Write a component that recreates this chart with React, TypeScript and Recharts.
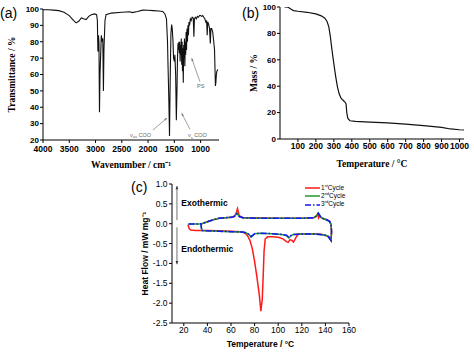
import { LineChart, Line, XAxis, YAxis, ReferenceLine, ReferenceDot, Legend } from "recharts"

// (a) FT-IR spectrum
const IR_WAVENUMBER = [
  4000, 3900, 3800, 3700, 3600, 3500, 3420, 3370, 3320, 3270,
  3230, 3180, 3130, 3080, 3020, 2980, 2965, 2955, 2945, 2935,
  2925, 2915, 2890, 2875, 2862, 2850, 2840, 2820, 2800, 2700,
  2500, 2350, 2300, 2200, 2100, 2000, 1900, 1800, 1720, 1680,
  1650, 1630, 1620, 1605, 1592, 1580, 1565, 1552, 1540, 1525,
  1515, 1500, 1490, 1475, 1462, 1450, 1440, 1430, 1420, 1412,
  1405, 1398, 1390, 1382, 1375, 1368, 1360, 1352, 1345, 1338,
  1330, 1322, 1315, 1308, 1300, 1292, 1284, 1276, 1268, 1260,
  1250, 1242, 1232, 1222, 1210, 1195, 1180, 1160, 1140, 1128,
  1118, 1100, 1080, 1060, 1040, 1020, 1000, 980, 960, 940,
  920, 900, 885, 875, 865, 850, 830, 815, 805, 790,
  770, 750, 735, 725, 718, 710, 700, 690, 672,
]
const IR_TRANSMITTANCE = [
  99.5, 99.5, 99.3, 99, 98, 96, 93, 91.5, 92.5, 94.5,
  94, 93.5, 95.5, 96.5, 97, 96.5, 93, 74, 84, 80,
  37, 60, 84, 80, 82, 50, 75, 93, 96.5, 97.5,
  98, 98.3, 97.8, 98.5, 99.3, 99.2, 99, 98.8, 98.5, 97,
  94, 80, 65, 45, 22.5, 55, 85, 90.5, 88, 80,
  70, 68, 72, 60, 32, 50, 70, 79, 75, 80,
  73, 80, 68, 78, 72, 82, 66, 80, 62, 76,
  55, 78, 70, 82, 65, 80, 72, 86, 75, 88,
  80, 90, 84, 92, 90, 94, 93, 95, 94.5, 83,
  94, 95, 94, 95.5, 95, 96, 96, 95.5, 96, 95,
  94, 92, 93, 84, 92, 91, 88, 79, 88, 88,
  86, 80, 75, 62, 53, 55, 60, 62, 63,
]
const IR_X_TICKS = [4000, 3500, 3000, 2500, 2000, 1500, 1000]
const IR_X_MINOR = [3750, 3250, 2750, 2250, 1750, 1250, 750]
const IR_Y_TICKS = [20, 30, 40, 50, 60, 70, 80, 90, 100]

// (b) TGA
const TGA_TEMP = [
  25, 45, 60, 75, 100, 150, 200, 230, 250, 262,
  272, 280, 290, 300, 310, 320, 330, 340, 350, 362,
  368, 372, 378, 390, 420, 500, 600, 700, 800, 900,
  950, 1000, 1025,
]
const TGA_MASS = [
  100, 99.8, 98.5, 97.3, 96.8, 96, 94.8, 93.3, 91.5, 89,
  85, 78, 67, 57, 47.5, 39.5, 34, 31, 29.5, 28,
  26.5, 20, 15.5, 13.8, 13.3, 12.8, 12.2, 11.3, 10.2, 8.8,
  7.6, 7.0, 6.8,
]
const TGA_X_TICKS = [100, 200, 300, 400, 500, 600, 700, 800, 900, 1000]
const TGA_Y_TICKS = [0, 20, 40, 60, 80, 100]
const TGA_Y_MINOR = [10, 30, 50, 70, 90]

// (c) DSC, three heating/cooling cycles
const CYCLE1_TEMP = [
  23.5, 24.5, 26, 30, 40, 50, 60, 68, 72, 74,
  76, 78, 80, 82, 84, 85.3, 86.5, 87.3, 88, 89,
  91, 95, 100, 104, 107, 108.5, 110, 111.5, 113, 115,
  117, 125, 135, 140, 143, 144.8, 145.2, 144.8, 143.5, 141,
  138, 135.5, 134.8, 134.2, 133.5, 132, 130, 120, 100, 80,
  70, 67, 65.5, 64.5, 63, 60, 55, 50, 45, 40,
  37, 35.5,
]
const CYCLE1_FLOW = [
  -0.02, -0.12, -0.16, -0.17, -0.17, -0.18, -0.19, -0.2, -0.24, -0.3,
  -0.42, -0.62, -0.95, -1.35, -1.8, -2.2, -1.9, -1.3, -0.7, -0.38,
  -0.33, -0.33, -0.34, -0.38, -0.45, -0.47, -0.4, -0.42, -0.46, -0.35,
  -0.26, -0.25, -0.26, -0.29, -0.33, -0.42, -0.2, -0.02, 0.06, 0.1,
  0.13, 0.17, 0.19, 0.15, 0.25, 0.18, 0.15, 0.14, 0.14, 0.15,
  0.15, 0.2, 0.38, 0.28, 0.18, 0.16, 0.15, 0.14, 0.1, 0.05,
  0.02, 0.0,
]
const CYCLE2_TEMP = [
  24, 30, 34.5, 35.2, 40, 50, 60, 70, 73, 75.5,
  77, 78.5, 80, 85, 95, 103, 107, 109, 110.5, 113,
  120, 130, 138, 142, 144.8, 145.2, 144.8, 143.5, 141, 138,
  136, 134, 132.5, 130, 120, 100, 80, 70, 67, 65,
  63.5, 61, 55, 50, 45, 40, 37, 35.2,
]
const CYCLE2_FLOW = [
  -0.01, -0.01, 0.0, -0.17, -0.18, -0.19, -0.2, -0.21, -0.23, -0.28,
  -0.34, -0.3, -0.25, -0.24, -0.25, -0.27, -0.3, -0.36, -0.31, -0.27,
  -0.26, -0.26, -0.28, -0.31, -0.43, -0.2, -0.02, 0.06, 0.1, 0.13,
  0.17, 0.27, 0.2, 0.15, 0.14, 0.14, 0.14, 0.15, 0.18, 0.27,
  0.2, 0.16, 0.15, 0.14, 0.1, 0.05, 0.02, 0.0,
]
const CYCLE3_TEMP = [
  24, 30, 34.5, 35.2, 40, 50, 60, 70, 73, 75.5,
  77, 78.5, 80, 85, 95, 103, 107, 109, 110.5, 113,
  120, 130, 138, 142, 144.8, 145.2, 144.8, 143.5, 141, 138,
  136, 134, 132.5, 130, 120, 100, 80, 70, 67, 65,
  63.5, 61, 55, 50, 45, 40, 37, 35.2,
]
const CYCLE3_FLOW = [
  -0.01, -0.01, 0.0, -0.17, -0.18, -0.19, -0.2, -0.21, -0.23, -0.27,
  -0.32, -0.29, -0.25, -0.24, -0.25, -0.27, -0.29, -0.34, -0.3, -0.27,
  -0.26, -0.26, -0.28, -0.31, -0.42, -0.2, -0.02, 0.06, 0.1, 0.13,
  0.17, 0.26, 0.2, 0.15, 0.14, 0.14, 0.14, 0.15, 0.18, 0.25,
  0.2, 0.16, 0.15, 0.14, 0.1, 0.05, 0.02, 0.0,
]
const CYCLE_NUMS = ["1", "2", "3"]
const CYCLE_SUFFIX = ["st", "nd", "rd"]
const CYCLE_COLORS = ["#ff1a1a", "#1f9a2a", "#1414ff"]
const CYCLE_DASHES = [undefined, undefined, "6 2 1.5 2"]
const DSC_X_TICKS = [20, 40, 60, 80, 100, 120, 140, 160]
const DSC_X_MINOR = [10, 30, 50, 70, 90, 110, 130, 150]
const DSC_Y_TICKS = [-2.5, -2.0, -1.5, -1.0, -0.5, 0.0, 0.5, 1.0]
const DSC_Y_MINOR = [-2.25, -1.75, -1.25, -0.75, -0.25, 0.25, 0.75]

const irData = IR_WAVENUMBER.map((wn, i) => ({ wn, t: IR_TRANSMITTANCE[i] }))
const tgaData = TGA_TEMP.map((temp, i) => ({ temp, mass: TGA_MASS[i] }))
const zip = (xs: number[], ys: number[]) => xs.map((temp, i) => ({ temp, flow: ys[i] }))
const dscSeries = [
  zip(CYCLE1_TEMP, CYCLE1_FLOW),
  zip(CYCLE2_TEMP, CYCLE2_FLOW),
  zip(CYCLE3_TEMP, CYCLE3_FLOW),
]

const SANS = "Liberation Sans, Arial, sans-serif"
const SERIF = "Liberation Serif, Times New Roman, serif"
const boldTick = { fill: "#000", fontSize: 8.5, fontWeight: 700, fontFamily: SANS }
const boldTickY = { ...boldTick, fontSize: 8 }
const plainTick = { fill: "#000", fontSize: 8.5, fontFamily: SANS }
const serifTitle = { fill: "#000", fontSize: 9.5, fontWeight: 700, fontFamily: SERIF }
const sansTitle = { fill: "#000", fontSize: 8.5, fontWeight: 700, fontFamily: SANS }

function Arrow(props: any) {
  const { x1, y1, x2, y2, stroke, head = 3 } = props
  const a = Math.atan2(y2 - y1, x2 - x1)
  const p1 = `${x2 - head * Math.cos(a - 0.4)},${y2 - head * Math.sin(a - 0.4)}`
  const p2 = `${x2 - head * Math.cos(a + 0.4)},${y2 - head * Math.sin(a + 0.4)}`
  return (
    <g>
      <line x1={x1} y1={y1} x2={x2} y2={y2} stroke={stroke} strokeWidth={0.7} />
      <path d={`M${p1}L${x2},${y2}L${p2}Z`} fill={stroke} />
    </g>
  )
}

function SubText({ cx, cy, main, sub, rest }: any) {
  return (
    <text x={cx} y={cy} fontSize={5.5} fill="#666" fontFamily={SANS}>
      {main}
      {sub && <tspan fontSize={4} dy={1.5}>{sub}</tspan>}
      <tspan dy={sub ? -1.5 : 0}>{rest}</tspan>
    </text>
  )
}

function CycleLegend({ payload }: any) {
  return (
    <div style={{ fontFamily: SANS, fontSize: 6.5, lineHeight: "8.2px", color: "#000" }}>
      {(payload || []).map((p: any, i: number) => (
        <div key={i} style={{ display: "flex", alignItems: "center", whiteSpace: "nowrap" }}>
          <svg width={16} height={4} style={{ display: "block" }}>
            <line x1={0} y1={2} x2={15} y2={2} stroke={CYCLE_COLORS[i]} strokeWidth={1.5} strokeDasharray={CYCLE_DASHES[i]} />
          </svg>
          <span>
            {CYCLE_NUMS[i]}
            <span style={{ fontSize: 4, verticalAlign: "super", lineHeight: 0 }}>{CYCLE_SUFFIX[i]}</span>
            Cycle
          </span>
        </div>
      ))}
    </div>
  )
}

const panelLabel = { position: "absolute" as const, fontFamily: SANS, fontSize: 14, color: "#000", lineHeight: "14px" }

export default function App() {
  return (
    <div style={{ position: "absolute", left: 0, top: 0, width: 474, height: 353, background: "#fff" }}>
      <div style={{ position: "absolute", left: 0, top: 0 }}>
        <LineChart width={237} height={175} data={irData} margin={{ top: 9, right: 18, bottom: 0, left: 0 }}>
          <XAxis xAxisId="minor" type="number" domain={[650, 4000]} reversed ticks={IR_X_MINOR} interval={0} height={0}
            tick={false} tickSize={2} axisLine={false} stroke="#000" />
          <XAxis dataKey="wn" type="number" domain={[650, 4000]} reversed allowDataOverflow ticks={IR_X_TICKS} interval={0}
            height={35} tickSize={3} tickMargin={3} tick={boldTick} stroke="#000"
            label={{ value: "Wavenumber / cm⁻¹", position: "insideBottom", offset: 7, style: serifTitle }} />
          <XAxis xAxisId="top" orientation="top" type="number" domain={[650, 4000]} reversed height={0} tick={false} tickLine={false} stroke="#000" />
          <YAxis type="number" domain={[20, 100]} allowDataOverflow ticks={IR_Y_TICKS} interval={0} width={43} tickSize={3} tickMargin={1}
            tick={boldTickY} stroke="#000"
            label={{ value: "Transmittance / %", angle: -90, position: "insideLeft", offset: 12, style: { ...serifTitle, textAnchor: "middle" } }} />
          <YAxis yAxisId="right" orientation="right" type="number" domain={[20, 100]} width={0} tick={false} tickLine={false} stroke="#000" />
          <Line dataKey="t" stroke="#111" strokeWidth={1.1} dot={false} isAnimationActive={false} />
          <ReferenceLine segment={[{ x: 1906, y: 26.1 }, { x: 1640, y: 33.4 }]} stroke="#777" ifOverflow="visible" shape={(p: any) => <Arrow {...p} stroke="#777" />} />
          <ReferenceLine segment={[{ x: 1202, y: 26.5 }, { x: 1360, y: 36.3 }]} stroke="#777" ifOverflow="visible" shape={(p: any) => <Arrow {...p} stroke="#777" />} />
          <ReferenceLine segment={[{ x: 1012, y: 55.6 }, { x: 1170, y: 69.9 }]} stroke="#777" ifOverflow="visible" shape={(p: any) => <Arrow {...p} stroke="#777" />} />
          <ReferenceDot x={2344} y={22.1} r={0} shape={(p: any) => <SubText {...p} main="ν" sub="as" rest=" COO" />} />
          <ReferenceDot x={1240} y={21.8} r={0} shape={(p: any) => <SubText {...p} main="ν" sub="s" rest=" COO" />} />
          <ReferenceDot x={1069} y={51.8} r={0} shape={(p: any) => <SubText {...p} main="PS" rest="" />} />
        </LineChart>
      </div>

      <div style={{ position: "absolute", left: 237, top: 0 }}>
        <LineChart width={237} height={175} data={tgaData} margin={{ top: 7, right: 10, bottom: 0, left: 0 }}>
          <XAxis dataKey="temp" type="number" domain={[0, 1025]} allowDataOverflow ticks={TGA_X_TICKS} interval={0}
            height={36} tickSize={3} tickMargin={1} tick={boldTick} stroke="#000"
            label={{ value: "Temperature / °C", position: "insideBottom", offset: 8, style: serifTitle }} />
          <XAxis xAxisId="top" orientation="top" type="number" domain={[0, 1025]} height={0} tick={false} tickLine={false} stroke="#000" />
          <YAxis yAxisId="minor" type="number" domain={[0, 100]} ticks={TGA_Y_MINOR} interval={0} width={0}
            tick={false} tickSize={2} axisLine={false} stroke="#000" />
          <YAxis type="number" domain={[0, 100]} allowDataOverflow ticks={TGA_Y_TICKS} interval={0} width={43} tickSize={3} tickMargin={1}
            tick={boldTickY} stroke="#000"
            label={{ value: "Mass / %", angle: -90, position: "insideLeft", offset: 17, style: { ...serifTitle, textAnchor: "middle" } }} />
          <YAxis yAxisId="right" orientation="right" type="number" domain={[0, 100]} width={0} tick={false} tickLine={false} stroke="#000" />
          <Line dataKey="mass" stroke="#111" strokeWidth={1.2} dot={false} isAnimationActive={false} />
        </LineChart>
      </div>

      <div style={{ position: "absolute", left: 110, top: 170 }}>
        <LineChart width={250} height={183} margin={{ top: 14, right: 11, bottom: 0, left: 0 }}>
          <XAxis xAxisId="minor" type="number" domain={[10, 160]} ticks={DSC_X_MINOR} interval={0} height={0}
            tick={false} tickSize={2} axisLine={false} stroke="#000" />
          <XAxis dataKey="temp" type="number" domain={[10, 160]} allowDataOverflow ticks={DSC_X_TICKS} interval={0}
            height={30} tickSize={3} tickMargin={1} tick={plainTick} stroke="#000"
            label={{ value: "Temperature / °C", position: "insideBottom", offset: 6, style: sansTitle }} />
          <XAxis xAxisId="top" orientation="top" type="number" domain={[10, 160]} height={0} tick={false} tickLine={false} stroke="#000" />
          <YAxis yAxisId="minor" type="number" domain={[-2.5, 1.0]} ticks={DSC_Y_MINOR} interval={0} width={0}
            tick={false} tickSize={2} axisLine={false} stroke="#000" />
          <YAxis type="number" domain={[-2.5, 1.0]} allowDataOverflow ticks={DSC_Y_TICKS} interval={0} width={62} tickSize={3} tickMargin={1.5}
            tick={plainTick} stroke="#000" tickFormatter={(v: number) => v.toFixed(1)}
            label={{ value: "Heat Flow / mW mg⁻¹", angle: -90, position: "insideLeft", offset: 35, style: { ...sansTitle, textAnchor: "middle" } }} />
          <YAxis yAxisId="right" orientation="right" type="number" domain={[-2.5, 1.0]} width={0} tick={false} tickLine={false} stroke="#000" />
          {dscSeries.map((data, i) => (
            <Line key={i} data={data} dataKey="flow" name={`${CYCLE_NUMS[i]}${CYCLE_SUFFIX[i]}Cycle`} stroke={CYCLE_COLORS[i]}
              strokeWidth={1.5} strokeDasharray={CYCLE_DASHES[i]} dot={false} isAnimationActive={false} />
          ))}
          <ReferenceLine segment={[{ x: 14.2, y: 0.09 }, { x: 14.2, y: 0.95 }]} stroke="#333" ifOverflow="visible" shape={(p: any) => <Arrow {...p} stroke="#333" head={3.5} />} />
          <ReferenceLine segment={[{ x: 14.2, y: -0.09 }, { x: 14.2, y: -1.02 }]} stroke="#333" ifOverflow="visible" shape={(p: any) => <Arrow {...p} stroke="#333" head={3.5} />} />
          <ReferenceDot x={17.9} y={0.45} r={0} shape={(p: any) => (
            <text x={p.cx} y={p.cy} fontSize={8.5} fontWeight={700} fontFamily={SANS} fill="#000">Exothermic</text>
          )} />
          <ReferenceDot x={17.9} y={-0.71} r={0} shape={(p: any) => (
            <text x={p.cx} y={p.cy} fontSize={8.5} fontWeight={700} fontFamily={SANS} fill="#000">Endothermic</text>
          )} />
          <Legend layout="vertical" align="center" verticalAlign="middle" content={<CycleLegend />}
            wrapperStyle={{ left: 195, top: 14, width: 60, height: 26 }} />
        </LineChart>
      </div>

      <div style={{ ...panelLabel, left: 0, top: 6 }}>(a)</div>
      <div style={{ ...panelLabel, left: 242, top: 6 }}>(b)</div>
      <div style={{ ...panelLabel, left: 131, top: 180 }}>(c)</div>
    </div>
  )
}
